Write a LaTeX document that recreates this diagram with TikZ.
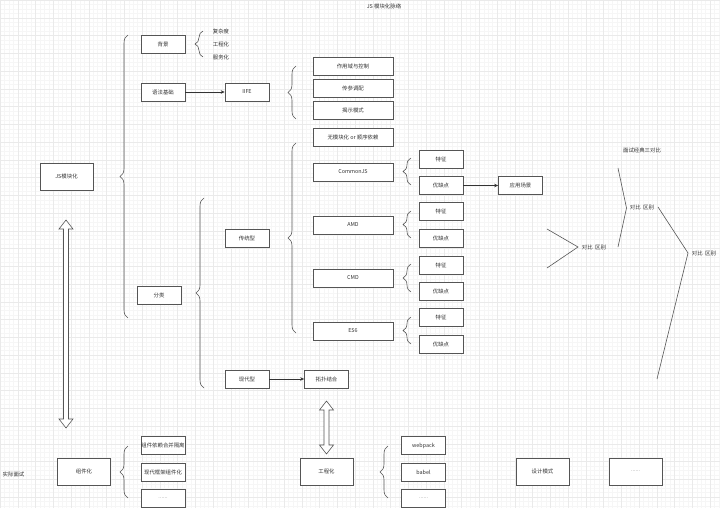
\documentclass[tikz,border=0pt]{standalone}
\usepackage{fontspec}
\setmainfont{Noto Sans CJK SC}
\usetikzlibrary{decorations.pathreplacing,arrows.meta}
\definecolor{gridminor}{HTML}{F6F6F6}
\definecolor{gridmajor}{HTML}{EAEAEA}
\definecolor{linegray}{HTML}{555555}
\definecolor{textgray}{HTML}{333333}

\begin{document}
\begin{tikzpicture}[x=1pt, y=-1pt,
	every node/.style={font=\fontsize{5.4}{6.5}\selectfont, text=textgray},
	box/.style={draw=linegray, fill=white, line width=0.7pt, minimum width=44pt, minimum height=18pt, inner sep=0pt},
	widebox/.style={box, minimum width=80pt},
	bigbox/.style={box, minimum width=53pt, minimum height=27pt},
	dots/.style={text=black!45},
	curly/.style={draw=linegray, line width=0.6pt, decorate, decoration={brace, amplitude=8pt}},
	vline/.style={draw=linegray, line width=0.6pt},
	hollow/.style={draw=linegray, fill=white, line width=0.6pt},
	link/.style={draw=black!80, line width=0.6pt, -{Stealth[length=4pt, width=3.5pt]}}]
		\useasboundingbox (0,0) rectangle (720,508);
		\begin{scope} [y=1pt]
		\draw [gridminor, step=4.4375pt, line width=0.3pt] (0,-508) grid (720,0);
		\draw [gridmajor, step=17.75pt, line width=0.4pt] (0,-508) grid (720,0);
		\end{scope}
		
		\node (title) at (384,6) {JS 模块化脉络};
		\node [bigbox] (jsmod) at (66.5,176.5) {JS模块化};
		
		\node [box] (bg) at (163,44) {背景};
		\node (complex) at (221,31) {复杂度};
		\node (enginz) at (221,44) {工程化};
		\node (service) at (221,57) {服务化};
		
		\node [box] (grammar) at (163,92) {语法基础};
		\node [box] (iife) at (247,92) {IIFE};
		\node [widebox] (scope) at (353,66) {作用域与控制};
		\node [widebox] (param) at (353,88) {传参调配};
		\node [widebox] (reveal) at (353,110.5) {揭示模式};
		
		\node [box] (classify) at (159,295) {分类};
		\node [box] (trad) at (247,238) {传统型};
		\node [widebox] (nomod) at (353,137) {无模块化 or 顺序依赖};
		\node [widebox] (cjs) at (353,172) {CommonJS};
		\node [widebox] (amd) at (353,225) {AMD};
		\node [widebox] (cmd) at (353,278) {CMD};
		\node [widebox] (esm) at (353,331) {ES6};
		
		\node [box] (cjsfeat) at (441,159) {特征};
		\node [box] (cjspro) at (441,185.5) {优缺点};
		\node [box] (amdfeat) at (441,211.5) {特征};
		\node [box] (amdpro) at (441,238) {优缺点};
		\node [box] (cmdfeat) at (441,265) {特征};
		\node [box] (cmdpro) at (441,291) {优缺点};
		\node [box] (esfeat) at (441,317.5) {特征};
		\node [box] (espro) at (441,344) {优缺点};
		\node [box] (scene) at (520.5,185.5) {应用场景};
		
		\node [box] (modern) at (247,379) {现代型};
		\node [box] (topo) at (326.5,379) {拓扑结合};
		
		\node (interview) at (13.5,474) {实际面试};
		\node [bigbox] (comp) at (84,471.5) {组件化};
		\node [box] (compdep) at (163,445.5) {组件依赖合并隔离};
		\node [box] (compfw) at (163,472) {现代框架组件化};
		\node [box, dots] (compmore) at (163,498) {......};
		\node [bigbox] (eng) at (326.5,471.5) {工程化};
		\node [box] (webpack) at (423.5,445.5) {webpack};
		\node [box] (babel) at (423.5,472) {babel};
		\node [box, dots] (engmore) at (423.5,498) {......};
		\node [bigbox] (design) at (542.5,471.5) {设计模式};
		\node [bigbox, dots] (more) at (635.5,471.5) {......};
		
		\node (three) at (642,150) {面试经典三对比};
		\node (cmpa) at (594,247) {对比\ \ 区别};
		\node (cmpb) at (642,207) {对比\ \ 区别};
		\node (cmpc) at (704,253) {对比\ \ 区别};
		
		\draw [link] (grammar) -- (iife);
		\draw [link] (cjspro) -- (scene);
		\draw [link] (modern) -- (topo);
		
		\draw [curly] (128,318) -- (128,35);
		\draw [curly] (203,57) -- (203,31);
		\draw [curly] (296,119) -- (296,66);
		\draw [curly] (296,333) -- (296,143);
		\draw [curly] (204,388) -- (204,198);
		\draw [curly] (411,185) -- (411,158);
		\draw [curly] (411,238) -- (411,211);
		\draw [curly] (411,292) -- (411,264);
		\draw [curly] (411,344) -- (411,317);
		\draw [curly] (128,498) -- (128,446);
		\draw [curly] (388,498) -- (388,446);
		
		\draw [vline] (547,229) -- (578,247) -- (547,268);
		\draw [vline] (618,168) -- (626.5,208) -- (618,247);
		\draw [vline] (658,207) -- (688,253) -- (657,379);
		
		\draw [hollow] (66,220) -- (73,229) -- (68.5,229) -- (68.5,419) -- (73,419) -- (66,428) -- (59,419) -- (63.5,419) -- (63.5,229) -- (59,229) -- cycle;
		\draw [hollow] (326.5,401) -- (333.5,410) -- (329,410) -- (329,445) -- (333.5,445) -- (326.5,454) -- (319.5,445) -- (324,445) -- (324,410) -- (319.5,410) -- cycle;
		
		\end{tikzpicture}
\end{document}
